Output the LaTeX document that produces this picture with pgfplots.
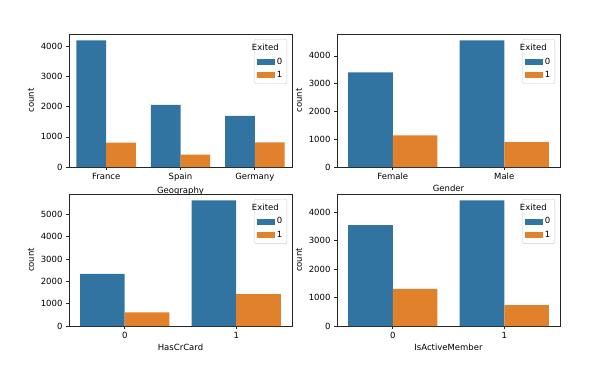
\documentclass[border=0pt]{standalone}
\usepackage{pgfplots}
\pgfplotsset{compat=1.18}
\usepackage{fontspec}
\setmainfont{DejaVu Sans}
\definecolor{sbblue}{RGB}{50,116,161}
\definecolor{sborange}{RGB}{225,129,44}
\pgfplotsset{
  base/.style={
    scale only axis, width=223pt, anchor=south west,
    xmin=-0.5, ymin=0, ytick distance=1000,
    axis line style={line width=0.67pt, black!85},
    tick style={black!85, line width=0.67pt},
    tick align=outside, major tick length=3pt,
    xtick pos=bottom, ytick pos=left,
    font=\fontsize{8.5}{10}\selectfont,
    /pgf/number format/assume math mode=true,
    scaled y ticks=false,
    yticklabel style={/pgf/number format/fixed, /pgf/number format/1000 sep={}},
    ylabel=count,
    xlabel style={yshift=2pt},
    legend style={at={(rel axis cs:0.978,0.962)}, anchor=north east,
      draw=black!20, rounded corners=2pt, fill=white, fill opacity=0.8, text opacity=1,
      font=\fontsize{8.5}{10}\selectfont, row sep=2pt, inner sep=2.5pt, cells={anchor=west}},
    legend image code/.code={\draw[#1,draw=none,sharp corners,fill opacity=1] (0pt,-3pt) rectangle (18pt,3pt);},
    legend entries={{\hspace*{-25pt}Exited},0,1},
  },
  b0/.style={ybar, bar width=0.4, bar shift=-0.2, fill=sbblue, draw=none},
  b1/.style={ybar, bar width=0.4, bar shift=0.2, fill=sborange, draw=none},
}
\begin{document}
\begin{tikzpicture}
\path[use as bounding box] (0pt,0pt) rectangle (600pt,365pt);
% top-left
\begin{axis}[base, at={(69pt,198pt)}, height=133pt, xmax=2.5, ymax=4414,
  xtick={0,1,2}, xticklabels={France,Spain,Germany}, xlabel=Geography]
\addlegendimage{empty legend}
\addplot[b0] coordinates {(0,4204) (1,2064) (2,1695)};
\addplot[b1] coordinates {(0,810) (1,413) (2,814)};
\end{axis}
% top-right
\begin{axis}[base, at={(337pt,198pt)}, height=133pt, xmax=1.5, ymax=4787,
  xtick={0,1}, xticklabels={Female,Male}, xlabel=Gender]
\addlegendimage{empty legend}
\addplot[b0] coordinates {(0,3404) (1,4559)};
\addplot[b1] coordinates {(0,1139) (1,898)};
\end{axis}
% bottom-left
\begin{axis}[base, at={(69pt,39pt)}, height=132pt, xmax=1.5, ymax=5913,
  xtick={0,1}, xticklabels={0,1}, xlabel=HasCrCard]
\addlegendimage{empty legend}
\addplot[b0] coordinates {(0,2332) (1,5631)};
\addplot[b1] coordinates {(0,613) (1,1424)};
\end{axis}
% bottom-right
\begin{axis}[base, at={(337pt,39pt)}, height=132pt, xmax=1.5, ymax=4637,
  xtick={0,1}, xticklabels={0,1}, xlabel=IsActiveMember]
\addlegendimage{empty legend}
\addplot[b0] coordinates {(0,3547) (1,4416)};
\addplot[b1] coordinates {(0,1302) (1,735)};
\end{axis}
\end{tikzpicture}
\end{document}
